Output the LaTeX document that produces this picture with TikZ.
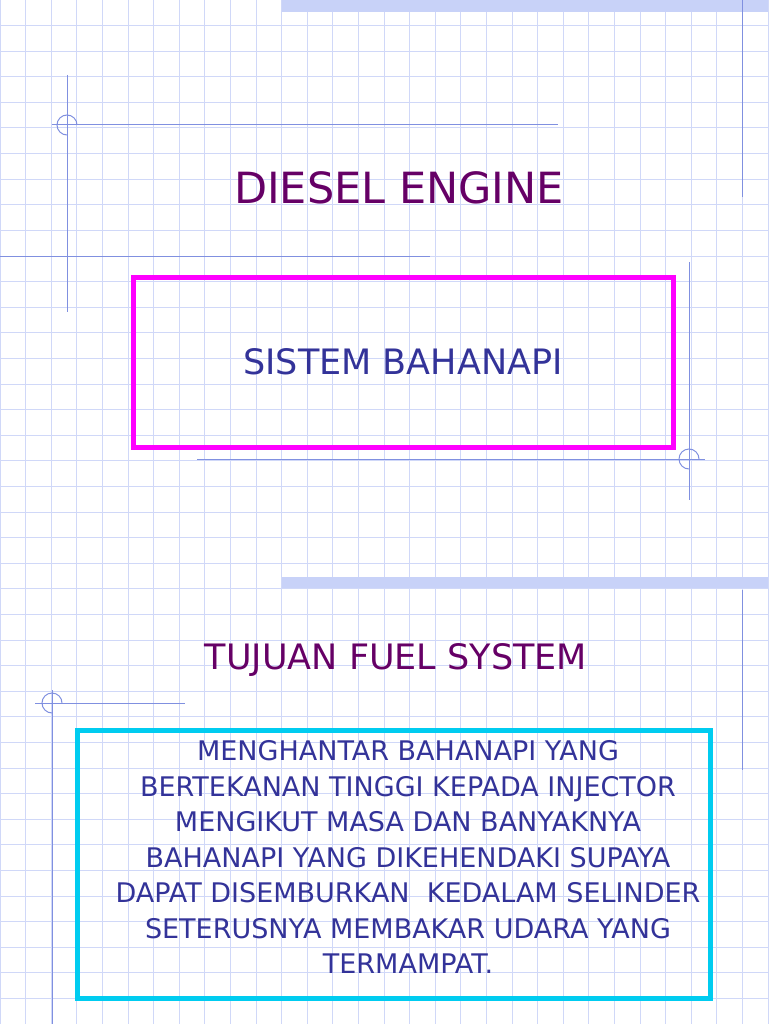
\documentclass[tikz,border=0pt]{standalone}
\usepackage{fontspec}
\setmainfont{DejaVu Sans}
\usetikzlibrary{patterns}
\definecolor{gridc}{HTML}{D0D8F8}
\definecolor{linec}{HTML}{8090E0}
\definecolor{titlec}{HTML}{660066}
\definecolor{bodyc}{HTML}{333399}
\definecolor{magc}{HTML}{FF00FF}
\definecolor{cyanc}{HTML}{00CCF0}
\definecolor{bandc}{HTML}{C8D2F8}
\tikzset{deco/.style={linec,line width=1pt},band/.style={fill=bandc,draw=none},
 boxtext/.style={font=\fontsize{27}{35.5}\selectfont,text=bodyc,align=center}}
\begin{document}
\begin{tikzpicture}[x=1pt,y=-1pt]
\fill[white] (0,0) rectangle (768,1024);
\useasboundingbox (0,0) rectangle (768,1024);
\foreach \i in {0,...,30}{\draw[gridc,line width=1pt] ({25.6*\i},0) -- ({25.6*\i},1024);}
\foreach \i in {0,...,40}{\draw[gridc,line width=1pt] (0,{25.6*\i}) -- (768,{25.6*\i});}
\fill[band] (282,0) rectangle (768,12);
\fill[band] (282,577) rectangle (768,588);
% decorations
\draw[deco] (67,75) -- (67,312);
\draw[deco] (52,125) -- (558,125);
\draw[deco] (0,256) -- (430,256);
\draw[deco] (77,125) arc (0:-270:10);
\draw[deco] (742,0) -- (742,197);
\draw[deco] (689,262) -- (689,500);
\draw[deco] (197,459) -- (705,459);
\draw[deco] (699,459) arc (0:-270:10);
\draw[deco] (35,703) -- (185,703);
\draw[deco] (52,690) -- (52,1024);
\draw[deco] (62,703) arc (0:-270:10);
\draw[deco] (742,590) -- (742,770);
% content
\node[font=\fontsize{43}{48}\selectfont,text=titlec] (title) at (399,188) {DIESEL ENGINE};
\draw[magc,line width=5pt] (133,277) rectangle (673,447);
\node[font=\fontsize{35}{40}\selectfont,text=bodyc] (sb) at (403,362) {SISTEM BAHANAPI};
\node[font=\fontsize{35}{40}\selectfont,text=titlec] (tj) at (396,660) {TUJUAN FUEL SYSTEM};
\draw[cyanc,line width=5pt] (77,730) rectangle (710,998);
\node[boxtext] (body) at (408,857) {MENGHANTAR BAHANAPI YANG\\BERTEKANAN TINGGI KEPADA INJECTOR\\MENGIKUT MASA DAN BANYAKNYA\\BAHANAPI YANG DIKEHENDAKI SUPAYA\\DAPAT DISEMBURKAN\ \ KEDALAM SELINDER\\SETERUSNYA MEMBAKAR UDARA YANG\\TERMAMPAT.};
\end{tikzpicture}
\end{document}
